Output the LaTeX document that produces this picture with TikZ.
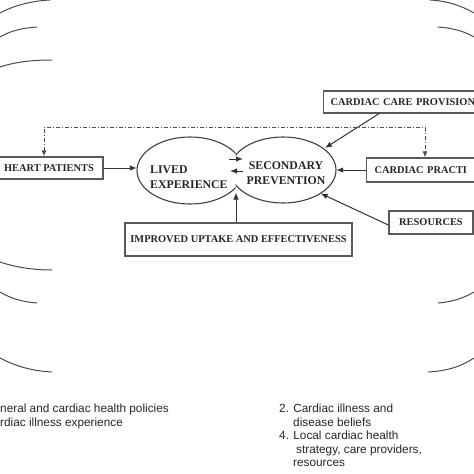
\documentclass[tikz,border=0pt]{standalone}
\usepackage{fontspec}
\setmainfont{Liberation Serif}
\newfontfamily\arialfont{Liberation Sans}
\usetikzlibrary{arrows.meta,shapes.geometric,calc}
\tikzset{
  boxnode/.style={draw=black!65,line width=1.2pt,rectangle,inner sep=0pt,font=\bfseries\fontsize{10.4}{12}\selectfont,text=black!85},
  elltext/.style={inner sep=0pt,font=\bfseries\fontsize{11.8}{15}\selectfont,text=black!85,align=left},
  ellline/.style={draw=black!75,line width=1.1pt},
  arr/.style={draw=black!80,line width=1pt,-{Latex[length=7pt,width=5.5pt]}},
  dd/.style={draw=black!70,line width=0.9pt,dash pattern=on 4pt off 2pt on 1pt off 2pt,{Latex[length=6pt,width=5pt]}-{Latex[length=6pt,width=5pt]}},
  bigarc/.style={draw=black!70,line width=1pt},
  bottomtext/.style={inner sep=0pt,font=\arialfont\fontsize{11.8}{13.6}\selectfont,text=black!85,anchor=base west}
}
\begin{document}
\begin{tikzpicture}[x=1pt,y=-1pt]
\useasboundingbox (0,0) rectangle (474,474);
\clip (0,0) rectangle (474,474);
\fill[white] (0,0) rectangle (474,474);

% big surrounding arcs
\draw[bigarc] (0,13) .. controls (15,5) and (32,1) .. (50,0);
\draw[bigarc] (0,37) .. controls (10,31) and (22,28) .. (37,27);
\draw[bigarc] (0,67) .. controls (15,62) and (32,60) .. (52,60);
\draw[bigarc] (430,0) .. controls (448,1) and (462,6) .. (474,13);
\draw[bigarc] (438,27) .. controls (452,28) and (464,31) .. (474,37);
\draw[bigarc] (0,262) .. controls (15,267) and (32,270) .. (52,270);
\draw[bigarc] (0,292) .. controls (10,298) and (22,302) .. (37,303);
\draw[bigarc] (0,358) .. controls (15,366) and (32,371) .. (52,372);
\draw[bigarc] (438,303) .. controls (452,302) and (464,298) .. (474,292);
\draw[bigarc] (428,372) .. controls (448,371) and (462,366) .. (474,358);

% ellipses
\node[ellipse,minimum width=106pt,minimum height=67pt,inner sep=0pt] (lived) at (190,170.5) {};
\node[ellipse,minimum width=106pt,minimum height=66pt,inner sep=0pt] (sec) at (283,170) {};
\begin{scope}
\clip (0,0) rectangle (235.5,474);
\draw[ellline] (190,170.5) ellipse [x radius=53, y radius=33.5];
\end{scope}
\begin{scope}
\clip (235.5,0) rectangle (474,474);
\draw[ellline] (283,170) ellipse [x radius=53, y radius=33];
\end{scope}
\node[elltext,anchor=north west] (livedtxt) at (150,166) {LIVED\\EXPERIENCE};
\node[elltext,anchor=north,align=center] (sectxt) at (286,161.5) {SECONDARY\\PREVENTION};

% boxes
\node[boxnode,minimum width=108pt,minimum height=22pt] (hp) at (49,168) {HEART PATIENTS};
\node[boxnode,anchor=west,minimum width=180pt,minimum height=22pt,text width=172pt,align=left] (ccp) at (323,102) {\hspace*{3pt}CARDIAC CARE PROVISION};
\node[boxnode,anchor=west,minimum width=140pt,minimum height=24pt,text width=130pt,align=left] (cp) at (366,170) {\hspace*{3pt}CARDIAC PRACTI};
\node[boxnode,minimum width=84pt,minimum height=23pt] (res) at (431,222.5) {RESOURCES};
\node[boxnode,minimum width=227pt,minimum height=33pt] (imp) at (238.5,239.5) {IMPROVED UPTAKE AND EFFECTIVENESS};

% connectors
\draw[arr] (hp.east) -- (hp.east -| lived.west);
\draw[arr] (cp.west) -- (sec.east |- cp.west);
\draw[arr] (res.west) ++(0,2.5) coordinate (resout) -- (sec.south east);
\coordinate (meetbot) at (236,192.5);
\draw[arr] (imp.north -| meetbot) -- (meetbot);
\coordinate (ccpout) at (380,113);
\coordinate (ccpin) at (325,148);
\draw[arr] (ccpout) -- (ccpin);
\coordinate (m1a) at (229,159);
\coordinate (m1b) at (243,159);
\coordinate (m2a) at (243,171);
\coordinate (m2b) at (230,171);
\draw[arr] (m1a) -- (m1b);
\draw[arr] (m2a) -- (m2b);
\coordinate (dl) at (44,127);
\coordinate (dr) at (425,127);
\draw[dd] (dl |- hp.north) -- (dl) -- (dr) -- (dr |- cp.north);

% bottom texts
\node[bottomtext] (l1) at (0,412) {neral and cardiac health policies};
\node[bottomtext] (l2) at (0,426) {rdiac illness experience};
\node[bottomtext] (r1) at (279,412) {2. Cardiac illness and};
\node[bottomtext] (r2) at (293,426.5) {disease beliefs};
\node[bottomtext] (r3) at (279,439.5) {4. Local cardiac health};
\node[bottomtext] (r4) at (296,453) {strategy, care providers,};
\node[bottomtext] (r5) at (293,466.5) {resources};
\end{tikzpicture}
\end{document}
